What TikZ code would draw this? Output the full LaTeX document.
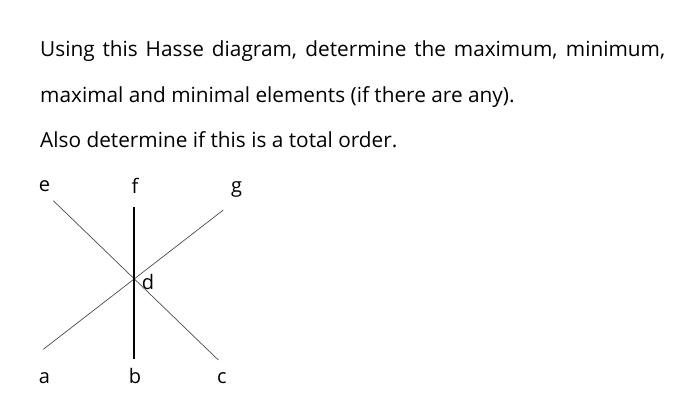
\documentclass[tikz,border=0pt]{standalone}
\usepackage{fontspec}
\setmainfont{Open Sans}
\begin{document}
\begin{tikzpicture}[x=1pt,y=-1pt,
  txt/.style={anchor=base west,inner sep=0pt,font=\fontsize{20.8}{24}\selectfont},
  lbl/.style={inner sep=0pt,font=\fontsize{20}{22}\selectfont},
  thin/.style={draw=black!70,line width=0.7pt},
  thick/.style={draw=black,line width=2.3pt}]
\useasboundingbox[fill=white] (0,0) rectangle (700,414);
\node[txt] (l1) at (40,57) {\makebox[625pt][s]{Using this Hasse diagram, determine the maximum, minimum,}};
\node[txt] (l2) at (40,103) {maximal and minimal elements (if there are any).};
\node[txt] (l3) at (40,147) {Also determine if this is a total order.};
\node[lbl] (e) at (44.5,186) {e};
\node[lbl] (f) at (135,186) {f};
\node[lbl] (g) at (236.5,189) {g};
\node[lbl] (a) at (44.5,378) {a};
\node[lbl] (b) at (135,376) {b};
\node[lbl] (c) at (222,378) {c};
\node[lbl] (d) at (148,282) {d};
\coordinate (e1) at (53.3,200.7);
\coordinate (c1) at (218.3,360);
\coordinate (a1) at (43.3,349.3);
\coordinate (g1) at (223.3,210);
\coordinate (f1) at (134,206.7);
\coordinate (b1) at (134,359);
\draw[thin] (e1) -- (c1);
\draw[thin] (a1) -- (g1);
\draw[thick] (f1) -- (b1);
\end{tikzpicture}
\end{document}
